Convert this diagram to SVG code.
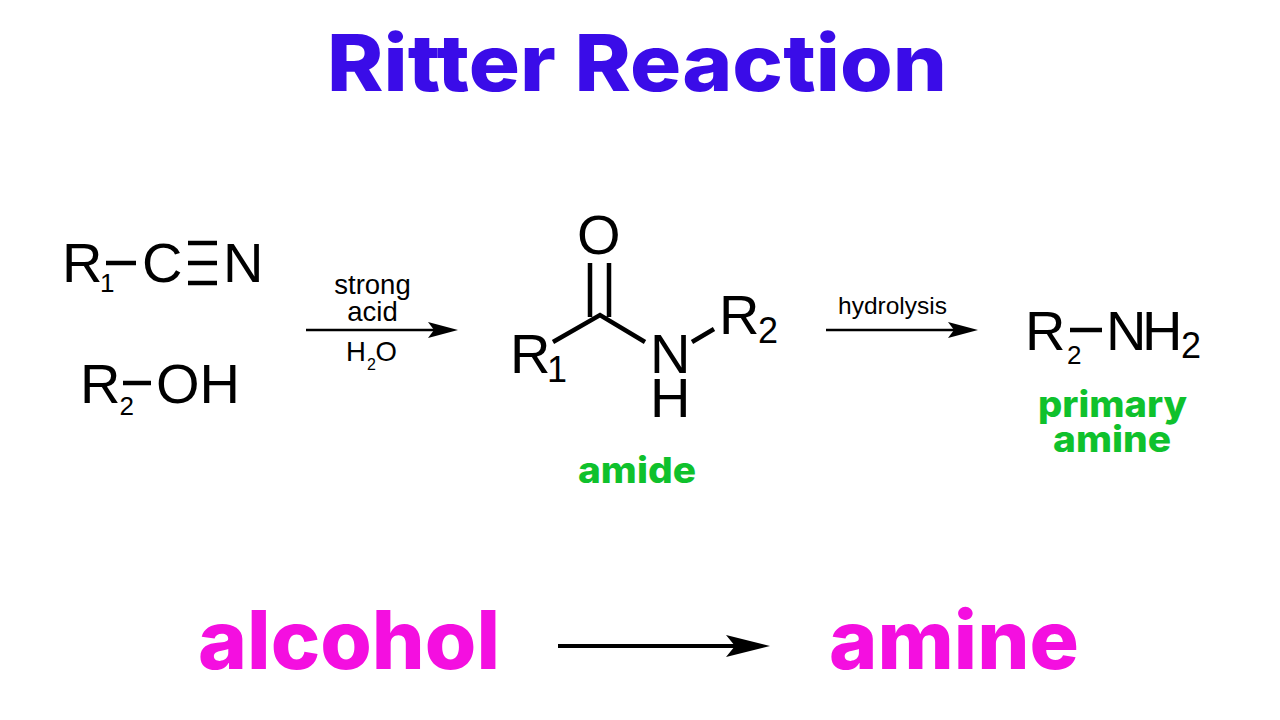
<svg xmlns="http://www.w3.org/2000/svg" width="1280" height="720" viewBox="0 0 1280 720">
<defs><style>
.c{font-family:"Liberation Sans",Arial,sans-serif;fill:#000}
.m{font-size:56px}
.s{font-size:26px}
.b{font-size:36px}
.r{font-size:27.5px}
.h{font-family:Inter,"Liberation Sans",sans-serif;font-weight:800}
.g{fill:#0fc12c;font-size:36px}
.p{fill:#f40fe0;font-size:81px}
.l{stroke:#000;stroke-width:4.5;fill:none}
.t{stroke:#000;stroke-width:2.5;fill:none}
</style></defs>
<rect width="1280" height="720" fill="#fff"/>
<text id="title" class="h" x="327" y="91" font-size="78" fill="#3a0ce8" textLength="620" lengthAdjust="spacingAndGlyphs">Ritter Reaction</text>
<g id="nitrile">
<text class="c m" x="62" y="282">R</text><text class="c s" x="100" y="292">1</text>
<text class="c m" x="142" y="282">C</text><text class="c m" x="223" y="282">N</text>
<path class="l" d="M106 263H136M188 243H217M188 263H217M188 283H217"/>
</g>
<g id="alcohol-formula">
<text class="c m" x="80" y="403">R</text><text class="c s" x="119.5" y="415">2</text>
<text class="c m" x="156" y="403">OH</text>
<path class="l" d="M123 383H151"/>
</g>
<g id="amide-structure">
<text class="c m" x="577" y="254">O</text>
<text class="c m" x="510" y="373">R</text><text class="c b" x="547" y="382">1</text>
<text class="c m" x="650" y="373">N</text><text class="c m" x="650" y="417">H</text>
<text class="c m" x="719" y="334">R</text><text class="c b" x="758" y="343">2</text>
<path class="l" d="M590 263V317M609 263V317M553 342L600 315L645 342M692 342L714 329"/>
</g>
<g id="amine-structure">
<text class="c m" x="1025" y="350">R</text><text class="c s" x="1067" y="364">2</text>
<text class="c m" x="1106" y="350">N</text><text class="c m" x="1142" y="350">H</text><text class="c b" x="1181" y="358">2</text>
<path class="l" d="M1070 330H1102"/>
</g>
<g id="labels">
<text class="h g" x="578" y="483" textLength="118" lengthAdjust="spacingAndGlyphs">amide</text>
<text class="h g" x="1038" y="417" textLength="149" lengthAdjust="spacingAndGlyphs">primary</text>
<text class="h g" x="1053" y="452" textLength="118" lengthAdjust="spacingAndGlyphs">amine</text>
<text class="h p" x="198" y="669" textLength="302" lengthAdjust="spacingAndGlyphs">alcohol</text>
<text class="h p" x="829" y="669" textLength="250" lengthAdjust="spacingAndGlyphs">amine</text>
</g>
<g id="reagents">
<text class="c r" x="372.5" y="294" text-anchor="middle">strong</text>
<text class="c r" x="372.5" y="320.5" text-anchor="middle">acid</text>
<text class="c r" x="346" y="361">H</text><text class="c" x="367" y="370" font-size="16">2</text><text class="c r" x="375.5" y="361">O</text>
<text class="c" x="892.5" y="314" text-anchor="middle" font-size="24.5">hydrolysis</text>
</g>
<g id="connectors">
<path class="t" d="M306 330H435"/><path d="M458 330L428 322L434 330L428 338Z"/>
<path class="t" d="M826 330H955"/><path d="M978 330L948 322L954 330L948 338Z"/>
<path d="M558 646H745" stroke="#000" stroke-width="4" fill="none"/><path d="M770 646L726 635L735 646L726 657Z"/>
</g>
</svg>
